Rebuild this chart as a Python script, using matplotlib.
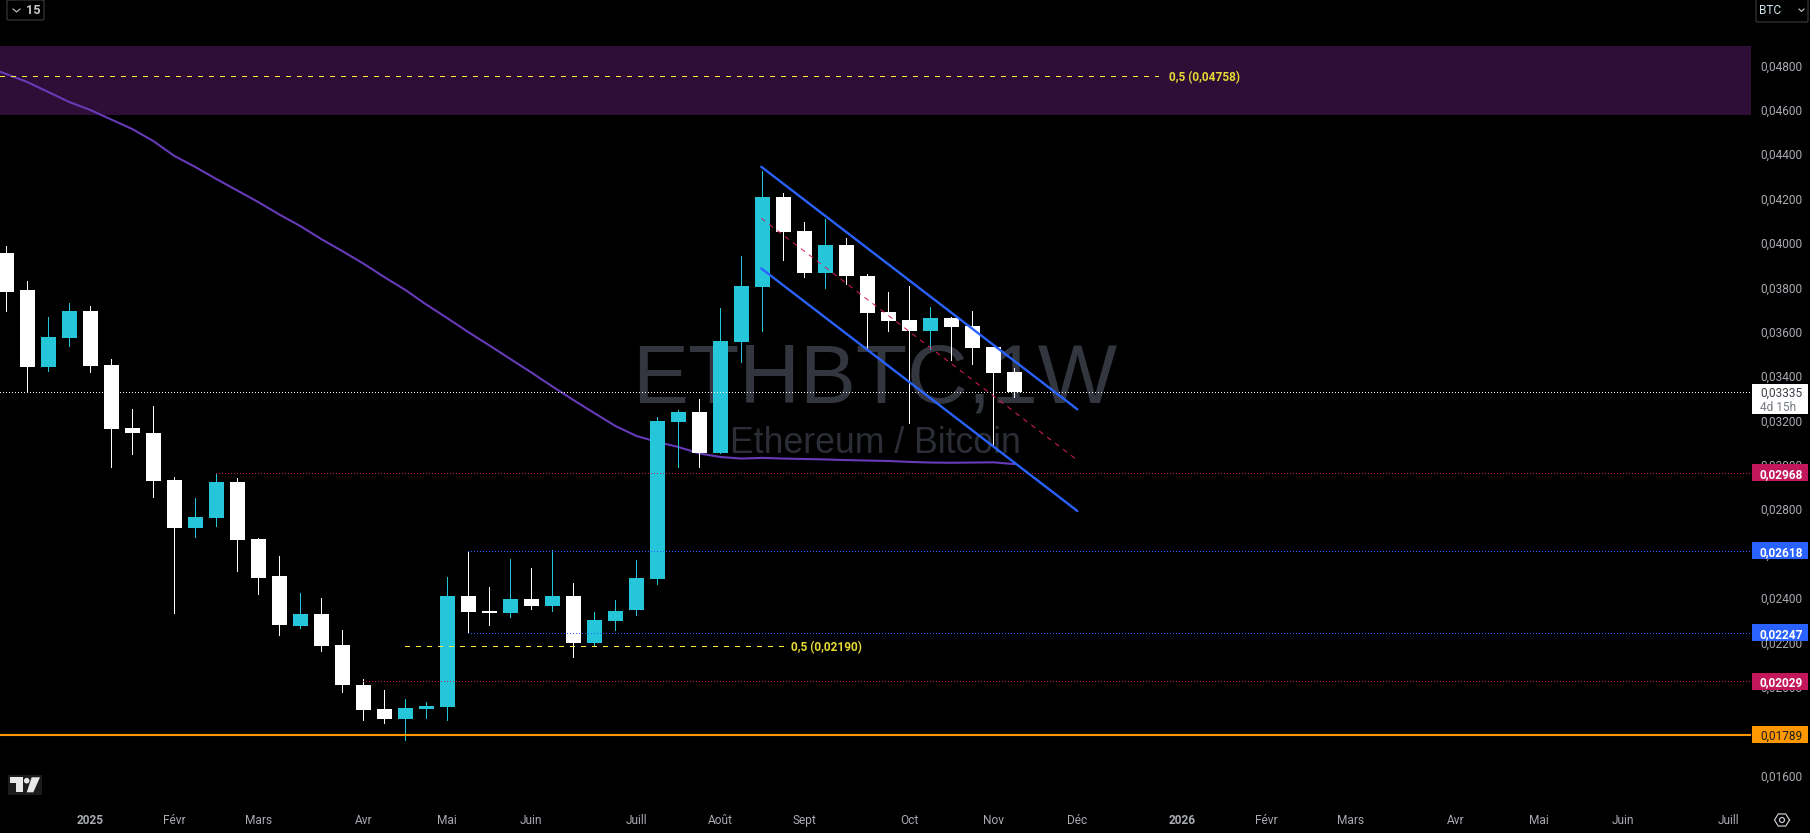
import numpy as np
import matplotlib
matplotlib.use("Agg")
import matplotlib.pyplot as plt
from matplotlib.lines import Line2D
from matplotlib.patches import Rectangle, FancyBboxPatch, Polygon, Ellipse
from matplotlib.transforms import ScaledTranslation

plt.rcParams['font.family'] = ['Roboto', 'DejaVu Sans']

# weekly candles ETH/BTC
opens = [0.03959, 0.03793, 0.03446, 0.03576, 0.03698, 0.03455, 0.03171, 0.03148, 0.02936, 0.02720,
         0.02765, 0.02927, 0.02670, 0.02504, 0.02278, 0.02332, 0.02193, 0.02012, 0.01904, 0.01859,
         0.01904, 0.01913, 0.02414, 0.02346, 0.02337, 0.02400, 0.02368, 0.02414, 0.02202, 0.02301,
         0.02350, 0.02490, 0.03198, 0.03243, 0.03058, 0.03558, 0.03806, 0.04212, 0.04059, 0.03869,
         0.03995, 0.03856, 0.03694, 0.03657, 0.03608, 0.03666, 0.03630, 0.03536, 0.03423]
highs = [0.03991, 0.03833, 0.03671, 0.03734, 0.03721, 0.03482, 0.03256, 0.03270, 0.02950, 0.02855,
         0.02963, 0.02945, 0.02675, 0.02594, 0.02427, 0.02405, 0.02260, 0.02039, 0.01990, 0.01949,
         0.01936, 0.02499, 0.02612, 0.02454, 0.02580, 0.02540, 0.02621, 0.02472, 0.02341, 0.02396,
         0.02576, 0.03220, 0.03252, 0.03301, 0.03711, 0.03946, 0.04329, 0.04230, 0.04099, 0.04113,
         0.04027, 0.03865, 0.03784, 0.03811, 0.03716, 0.03671, 0.03698, 0.03536, 0.03441]
lows = [0.03698, 0.03337, 0.03428, 0.03540, 0.03423, 0.02995, 0.03054, 0.02860, 0.02337, 0.02679,
        0.02729, 0.02526, 0.02423, 0.02238, 0.02269, 0.02166, 0.01981, 0.01855, 0.01841, 0.01765,
        0.01864, 0.01855, 0.02247, 0.02283, 0.02319, 0.02355, 0.02346, 0.02139, 0.02193, 0.02260,
        0.02328, 0.02468, 0.02995, 0.02995, 0.03058, 0.03468, 0.03608, 0.03928, 0.03851, 0.03802,
        0.03820, 0.03522, 0.03608, 0.03195, 0.03527, 0.03477, 0.03459, 0.03091, 0.03310]
closes = [0.03784, 0.03446, 0.03581, 0.03698, 0.03450, 0.03166, 0.03148, 0.02932, 0.02720, 0.02770,
          0.02927, 0.02666, 0.02495, 0.02283, 0.02332, 0.02188, 0.02012, 0.01900, 0.01859, 0.01909,
          0.01918, 0.02414, 0.02341, 0.02337, 0.02400, 0.02368, 0.02414, 0.02202, 0.02305, 0.02346,
          0.02495, 0.03202, 0.03243, 0.03058, 0.03563, 0.03811, 0.04212, 0.04054, 0.03869, 0.03995,
          0.03856, 0.03689, 0.03653, 0.03608, 0.03666, 0.03626, 0.03531, 0.03419, 0.03335]

# moving average, one value per bar starting one bar before the first candle
ma_values = [0.04800, 0.04766, 0.04730, 0.04685, 0.04640, 0.04604, 0.04561, 0.04518, 0.04464, 0.04397,
             0.04347, 0.04293, 0.04241, 0.04189, 0.04133, 0.04081, 0.04022, 0.03968, 0.03912, 0.03851,
             0.03793, 0.03727, 0.03666, 0.03603, 0.03543, 0.03482, 0.03421, 0.03358, 0.03297, 0.03238,
             0.03180, 0.03135, 0.03108, 0.03085, 0.03056, 0.03040, 0.03033, 0.03036, 0.03033, 0.03031,
             0.03029, 0.03026, 0.03024, 0.03022, 0.03018, 0.03015, 0.03014, 0.03015, 0.03016, 0.03008]

# descending channel (bar index, price)
channel_x = [35.95, 51.0]
channel_upper = [0.04348, 0.03255]
channel_mid = [0.04116, 0.03026]
channel_lower = [0.03890, 0.02797]

zone_low, zone_high = 0.04581, 0.04892
last_price = 0.03335
orange_level = 0.01789
red_levels = [(0.02968, 10), (0.02029, 17)]
blue_levels = [(0.02618, 22), (0.02247, 22)]
fib_levels = [(0.04758, -0.3, 54.85, "0,5 (0,04758)"), (0.02190, 19, 37, "0,5 (0,02190)")]
fib_label_x = [55.37, 37.37]

price_ticks = [0.016 + 0.002 * i for i in range(17)]
month_pos = [4, 8, 12, 17, 21, 25, 30, 34, 38, 43, 47, 51, 56, 60, 64, 69, 73, 77, 82]
month_labels = ["2025", "Févr", "Mars", "Avr", "Mai", "Juin", "Juill", "Août", "Sept", "Oct", "Nov",
                "Déc", "2026", "Févr", "Mars", "Avr", "Mai", "Juin", "Juill"]

W, H = 1810, 833
PX = 0.72  # one pixel in points at dpi 100
WHITE, CYAN = "#ffffff", "#26c6da"
BLUE, RED, ORANGE, YELLOW = "#2962ff", "#c2185b", "#ff9800", "#ffeb3b"
GREY = "#a9abb2"
DOTS = (0, (0.9, 2.1))


def fx(x):
    return x / W


def fy(y):
    return 1 - y / H


def px_tf(pts):
    return [(fx(x), fy(y)) for x, y in pts]


fig = plt.figure(figsize=(W / 100, H / 100), dpi=100, facecolor="black")
ax = fig.add_axes([0, 1 - 800 / H, 1751 / W, 800 / H])
ax.patch.set_visible(False)
ax.set_xlim(-0.3, 83.08)
ax.set_ylim(0.014941, 0.050997)
for s in ax.spines.values():
    s.set_visible(False)

# watermark
fig.text(fx(874.5), fy(403), "ETHBTC,1W", family="Liberation Sans", fontsize=60.5, color="#33363e",
         ha="center", va="baseline", zorder=-1)
fig.text(fx(875), fy(453), "Ethereum / Bitcoin", family="Liberation Sans", fontsize=25.7, color="#2b2e36",
         ha="center", va="baseline", zorder=-1)

ax.axhspan(zone_low, zone_high, color="#2e0e36", lw=0, zorder=1)
ax.plot(np.arange(-1, 49), ma_values, color="#673ab7", lw=1.5, zorder=2, solid_joinstyle="round")

# candles
bars = np.arange(len(opens))
opens = np.array(opens)
closes = np.array(closes)
colors = [CYAN if c > o else WHITE for o, c in zip(opens, closes)]
ax.vlines(bars, lows, highs, colors=colors, lw=PX, zorder=3, antialiased=False)
ax.bar(bars, np.abs(closes - opens), bottom=np.minimum(opens, closes), width=15 / 21, color=colors,
       lw=0, zorder=3, antialiased=False)

# levels
ax.axhline(orange_level, color=ORANGE, lw=1.5, zorder=4)
ax.axhline(last_price, color=WHITE, lw=PX, ls=DOTS, zorder=4, antialiased=False)
for price, start in red_levels:
    ax.plot([start, 83.08], [price, price], color=RED, lw=PX, ls=DOTS, zorder=4, antialiased=False)
for price, start in blue_levels:
    ax.plot([start, 83.08], [price, price], color=BLUE, lw=PX, ls=DOTS, zorder=4, antialiased=False)
for (price, start, end, label), label_x in zip(fib_levels, fib_label_x):
    ax.plot([start, end], [price, price], color=YELLOW, lw=PX, ls=(0, (5, 6)), zorder=4, antialiased=False)
    ax.text(label_x, price, label, color="#e6d835", fontsize=8.6, fontweight="bold", ha="left",
            va="center_baseline", zorder=6)

# channel
ax.plot(channel_x, channel_upper, color=BLUE, lw=1.7, zorder=5, solid_capstyle="round")
ax.plot(channel_x, channel_lower, color=BLUE, lw=1.7, zorder=5, solid_capstyle="round")
ax.plot(channel_x, channel_mid, color="#d81b60", lw=PX, ls=(0, (5, 5)), zorder=5)

# axes
ax.yaxis.tick_right()
ax.set_yticks(price_ticks)
ax.set_yticklabels([f"{p:.5f}".replace(".", ",") for p in price_ticks], va="center_baseline")
ax.tick_params(axis="y", length=0, pad=6.5, labelsize=8.6, labelcolor=GREY)
ax.set_xticks(month_pos)
ax.set_xticklabels(month_labels, va="baseline")
ax.tick_params(axis="x", length=0, pad=17.6, labelsize=8.6, labelcolor=GREY)
for t in ax.get_xticklabels():
    if t.get_text() in ("2025", "2026"):
        t.set_fontweight("bold")
# scale labels sit one pixel above their level
one_px_up = ScaledTranslation(0, 1 / 100, fig.dpi_scale_trans)
for t in ax.get_yticklabels():
    t.set_transform(t.get_transform() + one_px_up)

# price labels on the scale
y_tf = ax.get_yaxis_transform()
box_h = 17 / 22187
box_w = 56 / 1751


def price_box(price, text, fc, tc, weight="bold"):
    ax.add_patch(Rectangle((1752 / 1751, price - box_h / 2), box_w, box_h, transform=y_tf, fc=fc, lw=0,
                           clip_on=False, zorder=7))
    ax.text(1760 / 1751, price, text, transform=y_tf, color=tc, fontsize=8.6, fontweight=weight, ha="left",
            va="center_baseline", clip_on=False, zorder=8)


price_box(0.02968, "0,02968", RED, "white")
price_box(0.02618, "0,02618", BLUE, "white")
price_box(0.02247, "0,02247", BLUE, "white")
price_box(0.02029, "0,02029", RED, "white")
price_box(0.01789, "0,01789", ORANGE, "#1a1a1a", "normal")

# countdown box
ax.add_patch(Rectangle((1752 / 1751, last_price - 22.5 / 22187), box_w, 30 / 22187, transform=y_tf, fc="white",
                       lw=0, clip_on=False, zorder=7))
ax.text(1760 / 1751, last_price, "0,03335", transform=y_tf, color="#3a3d45", fontsize=8.6, ha="left",
        va="center_baseline", clip_on=False, zorder=8)
ax.text(1760 / 1751, last_price - 14.5 / 22187, "4d 15h", transform=y_tf, color="#787b86", fontsize=8.6,
        ha="left", va="center_baseline", clip_on=False, zorder=8)

# buttons, logo, settings icon are screen furniture, in pixels
fig.add_artist(FancyBboxPatch((fx(7), fy(20)), 37 / W, 20 / H, boxstyle="round,pad=0,rounding_size=0.002",
                              transform=fig.transFigure, fc="black", ec="#3a3c42", lw=0.8,
                              mutation_aspect=H / W))
fig.add_artist(Line2D(*zip(*px_tf([(13, 9), (16.5, 12), (20, 9)])), color="#c8c8c8", lw=0.8,
                      transform=fig.transFigure))
fig.text(fx(26), fy(10.5), "15", color="#c8c8c8", fontsize=9.2, fontweight="bold", ha="left", va="center")

fig.add_artist(FancyBboxPatch((fx(1756), fy(22)), 52 / W, 24 / H, boxstyle="round,pad=0,rounding_size=0.002",
                              transform=fig.transFigure, fc="black", ec="#3a3c42", lw=0.8,
                              mutation_aspect=H / W))
fig.text(fx(1759), fy(10), "BTC", color="#cfe3ea", fontsize=8.6, ha="left", va="center")
fig.add_artist(Line2D(*zip(*px_tf([(1799, 9), (1801.5, 11.5), (1804, 9)])), color="#c8c8c8", lw=0.8,
                      transform=fig.transFigure))

fig.add_artist(Rectangle((fx(8), fy(795)), 34 / W, 20 / H, transform=fig.transFigure, fc="#1c1c1c", lw=0))
fig.add_artist(Polygon(px_tf([(10, 777.3), (22.7, 777.3), (22.7, 792.3), (16, 792.3), (16, 783.3), (10, 783.3)]),
                       closed=True, transform=fig.transFigure, fc="#e8e8e8", lw=0))
fig.add_artist(Polygon(px_tf([(31.7, 777.3), (40, 777.3), (33.3, 792.3), (26.7, 792.3)]),
                       closed=True, transform=fig.transFigure, fc="#e8e8e8", lw=0))
fig.add_artist(Ellipse((fx(26.7), fy(780.7)), 5.6 / W, 5.6 / H, transform=fig.transFigure, fc="#e8e8e8", lw=0))

# settings hexagon
hex_angles = np.arange(7) * np.pi / 3
hex_pts = [(1782 + 7.5 * np.cos(a), 820 + 7 * np.sin(a)) for a in hex_angles]
fig.add_artist(Line2D(*zip(*px_tf(hex_pts)), color="#c4c6cc", lw=0.9, transform=fig.transFigure, zorder=10))
ring_angles = np.linspace(0, 2 * np.pi, 25)
ring_pts = [(1782 + 2.5 * np.cos(a), 820 + 2.5 * np.sin(a)) for a in ring_angles]
fig.add_artist(Line2D(*zip(*px_tf(ring_pts)), color="#c4c6cc", lw=0.9, transform=fig.transFigure, zorder=10))

fig.savefig("out.png", dpi=100, facecolor="black")
